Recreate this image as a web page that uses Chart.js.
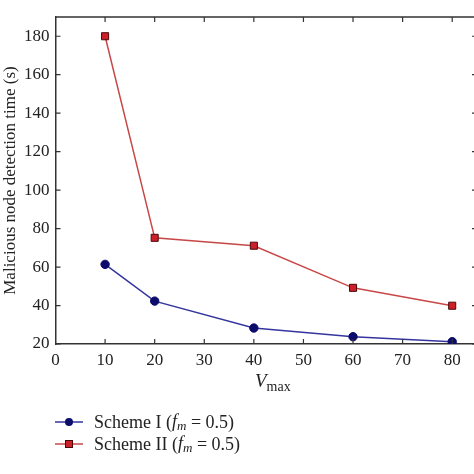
<!DOCTYPE html>
<html>
<head>
<meta charset="utf-8">
<script src="https://cdn.jsdelivr.net/npm/chart.js@4.4.0/dist/chart.umd.min.js"></script>
<style>
  body { margin: 0; width: 474px; height: 474px; overflow: hidden; position: relative; background: #fff; font-family: "Liberation Serif", "DejaVu Serif", serif; color: #222; }
  #myChart { position: absolute; left: 0; top: 0; }
  #xtitle { position: absolute; left: 255px; top: 370px; font-size: 19px; }
  #xtitle sub { font-size: 14px; font-style: normal; vertical-align: -4px; }
  #legend { position: absolute; left: 55px; top: 411px; font-size: 18px; }
  #legend div { display: flex; align-items: center; height: 22px; }
  #legend svg { margin-right: 11px; }
  #legend sub { font-size: 13px; vertical-align: -3px; }
</style>
</head>
<body>
<canvas id="myChart" width="483" height="474"></canvas>
<div id="xtitle"><i>V</i><sub>max</sub></div>
<div id="legend">
  <div><svg width="28" height="12"><line x1="0" y1="6" x2="28" y2="6" stroke="#3535a0" stroke-width="1.5"/><circle cx="14" cy="6" r="4" fill="#0c0c6c"/></svg>Scheme I (<i>f<sub>m</sub></i>&nbsp;= 0.5)</div>
  <div><svg width="28" height="12"><line x1="0" y1="6" x2="28" y2="6" stroke="#c84848" stroke-width="1.5"/><rect x="10.5" y="2.5" width="7" height="7" fill="#cc1f2a" stroke="#4a0808" stroke-width="1"/></svg>Scheme II (<i>f<sub>m</sub></i>&nbsp;= 0.5)</div>
</div>
<script>
const vmax = [10, 20, 40, 60, 80];
const scheme1 = [61.4, 42.3, 28.3, 23.8, 21.2];
const scheme2 = [180, 75.2, 71.1, 49.2, 39.9];
const xTicks = [0, 10, 20, 30, 40, 50, 60, 70, 80];
const yTicks = [20, 40, 60, 80, 100, 120, 140, 160, 180];

const axisColor = '#333';

// inward tick marks on all four sides plus the top frame line
const frameTicks = {
  id: 'frameTicks',
  afterDraw(chart) {
    const ctx = chart.ctx;
    const a = chart.chartArea;
    const x = chart.scales.x;
    const y = chart.scales.y;
    ctx.save();
    ctx.strokeStyle = axisColor;
    ctx.lineWidth = 1.5;
    ctx.beginPath();
    ctx.moveTo(a.left, a.top);
    ctx.lineTo(a.right, a.top);
    ctx.lineTo(a.right, a.bottom);
    ctx.stroke();
    ctx.lineWidth = 1.2;
    ctx.beginPath();
    xTicks.forEach(v => {
      if (v === 0) return;
      const px = x.getPixelForValue(v);
      ctx.moveTo(px, a.bottom); ctx.lineTo(px, a.bottom - 5);
      ctx.moveTo(px, a.top); ctx.lineTo(px, a.top + 5);
    });
    yTicks.forEach(v => {
      const py = y.getPixelForValue(v);
      ctx.moveTo(a.left, py); ctx.lineTo(a.left + 5, py);
      ctx.moveTo(a.right, py); ctx.lineTo(a.right - 5, py);
    });
    ctx.stroke();
    ctx.restore();
  }
};

const ctx = document.getElementById('myChart').getContext('2d');
const myChart = new Chart(ctx, {
  type: 'line',
  data: {
    datasets: [{
      label: 'Scheme I (fm = 0.5)',
      data: vmax.map((v, i) => ({ x: v, y: scheme1[i] })),
      borderColor: '#3535a0',
      backgroundColor: '#0c0c6c',
      pointBorderColor: '#0c0c6c',
      borderWidth: 1.5,
      pointStyle: 'circle',
      pointRadius: 4.2,
      pointBorderWidth: 1,
      tension: 0
    }, {
      label: 'Scheme II (fm = 0.5)',
      data: vmax.map((v, i) => ({ x: v, y: scheme2[i] })),
      borderColor: '#c84848',
      backgroundColor: '#cc1f2a',
      pointBorderColor: '#4a0808',
      borderWidth: 1.5,
      pointStyle: 'rect',
      pointRadius: 5,
      pointBorderWidth: 1,
      tension: 0
    }]
  },
  options: {
    responsive: false,
    animation: false,
    layout: { padding: { top: 17, bottom: 100, left: 0, right: 3 } },
    plugins: { legend: { display: false }, tooltip: { enabled: false } },
    scales: {
      x: {
        type: 'linear',
        min: 0,
        max: 85,
        afterFit(scale) { scale.height = 30; },
        grid: { display: false, drawTicks: false },
        border: { display: true, color: axisColor, width: 1.5 },
        ticks: {
          stepSize: 10,
          includeBounds: false,
          padding: 6,
          color: '#222',
          font: { family: 'Liberation Serif', size: 17 }
        }
      },
      y: {
        min: 20,
        max: 190,
        afterFit(scale) { scale.width = 55.5; },
        grid: { display: false, drawTicks: false },
        border: { display: true, color: axisColor, width: 1.5 },
        ticks: {
          stepSize: 20,
          includeBounds: false,
          padding: 6,
          color: '#222',
          font: { family: 'Liberation Serif', size: 17 }
        },
        title: {
          display: true,
          text: 'Malicious node detection time (s)',
          color: '#222',
          padding: 0,
          font: { family: 'Liberation Serif', size: 17 }
        }
      }
    }
  },
  plugins: [frameTicks]
});
</script>
</body>
</html>
